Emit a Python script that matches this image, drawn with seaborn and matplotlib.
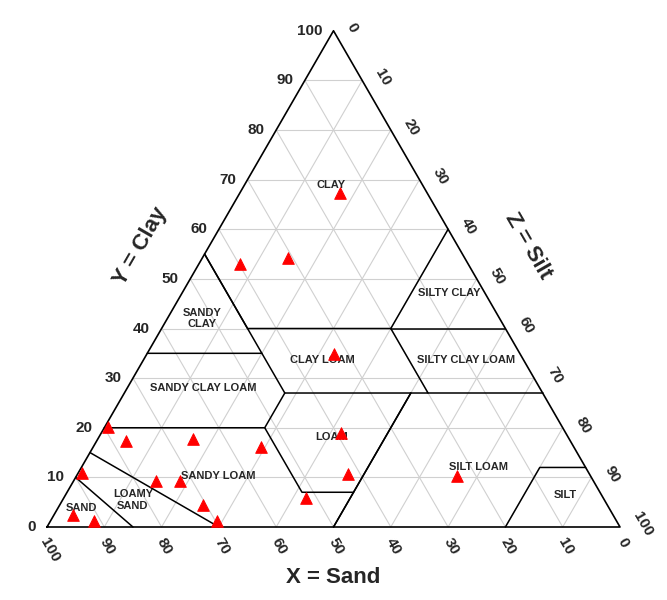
import numpy as np
import pandas as pd
import matplotlib
matplotlib.use("Agg")
import matplotlib.pyplot as plt
import seaborn as sns

sns.set_style("white")
plt.rcParams['font.family'] = ['Liberation Sans', 'DejaVu Sans']

# sample data (percent)
sand = [15.2, 30.8, 39.8, 32.5, 39.2, 42.1, 51.9, 23.3, 79.3, 77.5, 65.7, 54.6, 88.5, 76.3, 72.1, 70.6, 69.7, 94.3, 91.2]
clay = [67.4, 54.3, 53.1, 34.8, 18.9, 10.7, 5.8, 10.3, 20.1, 17.3, 17.7, 16.1, 10.9, 9.3, 9.3, 4.4, 1.2, 2.4, 1.2]

# USDA boundaries as (sand, clay) polylines
boundaries = [
    [(45, 55), (45, 40), (20, 40), (0, 60)],
    [(20, 40), (0, 40)],
    [(65, 35), (45, 35), (45, 55)],
    [(45, 35), (45, 27), (20, 27), (20, 40)],
    [(20, 27), (0, 27)],
    [(80, 20), (52, 20), (45, 27)],
    [(52, 20), (52, 7), (43, 7), (50, 0)],
    [(43, 7), (23, 27)],
    [(50, 0), (23, 27)],
    [(85, 15), (70, 0)],
    [(90, 10), (85, 0)],
    [(20, 0), (8, 12), (0, 12)],
]
region_names = ["CLAY", "SILTY CLAY", "SANDY\nCLAY", "CLAY LOAM", "SILTY CLAY LOAM",
                "SANDY CLAY LOAM", "LOAM", "SANDY LOAM", "SILT LOAM", "SILT", "LOAMY\nSAND", "SAND"]
region_sand = [16, 6.3, 52, 35.2, 10, 58.8, 41.2, 65, 18.7, 6.4, 82.3, 92]
region_clay = [69, 47.1, 42, 33.6, 33.6, 28, 18.1, 10.3, 12.1, 6.4, 5.4, 3.8]
ticks = list(range(0, 101, 10))

H = np.sqrt(3) / 2
def xy(s, c):
    s = np.asarray(s, float); c = np.asarray(c, float)
    z = 100 - s - c
    return (z + c / 2) / 100, c / 100 * H

fig = plt.figure(figsize=(6.67, 6), dpi=100)
ax = fig.add_axes([0, 0, 1, 1])
ax.set_xlim(-47 / 573, 620 / 573)
ax.set_ylim(-73 / 573, 527 / 573)
ax.axis("off")

# grid
for v in ticks[1:-1]:
    for p in [((100 - v, v), (0, v)), ((v, 0), (v, 100 - v)), ((0, 100 - v), (100 - v, 0))]:
        x, y = xy([p[0][0], p[1][0]], [p[0][1], p[1][1]])
        ax.plot(x, y, color="#d0d0d0", lw=0.8, zorder=1)
# frame
x, y = xy([100, 0, 0, 100], [0, 0, 100, 0])
ax.plot(x, y, color="black", lw=1.2, zorder=2)
for b in boundaries:
    x, y = xy([p[0] for p in b], [p[1] for p in b])
    ax.plot(x, y, color="black", lw=1.1, zorder=2)

for n, s, c in zip(region_names, region_sand, region_clay):
    x, y = xy(s, c)
    ax.text(x, y, n, ha="center", va="center", fontsize=8, fontweight="bold", zorder=3)

px, py = xy(sand, clay)
df = pd.DataFrame({"x": px, "y": py})
sns.scatterplot(data=df, x="x", y="y", marker="^", s=70, color="red", edgecolor="red", ax=ax, zorder=4, legend=False)

for t in ticks:
    # clay (left)
    x, y = xy(100 - t, t)
    ax.text(x - 0.02, y, str(t), ha="right", va="center", fontsize=11, fontweight="bold")
    # sand (bottom)
    x, y = xy(t, 0)
    ax.text(x + 0.005, y - 0.015, str(t), ha="center", va="top", fontsize=11, fontweight="bold", rotation=-60)
    # silt (right)
    x, y = xy(0, 100 - t)
    ax.text(x + 0.018, y + 0.005, str(t), ha="left", va="center", fontsize=11, fontweight="bold", rotation=-60)

ax.set_xlabel("")
ax.set_ylabel("")
ax.text(0.163, 0.49, "Y = Clay", rotation=60, ha="center", va="center", fontsize=16, fontweight="bold")
ax.text(0.84, 0.49, "Z = Silt", rotation=-60, ha="center", va="center", fontsize=16, fontweight="bold")
ax.text(0.5, -0.088, "X = Sand", ha="center", va="center", fontsize=16, fontweight="bold")

fig.savefig("out.png", dpi=100)
